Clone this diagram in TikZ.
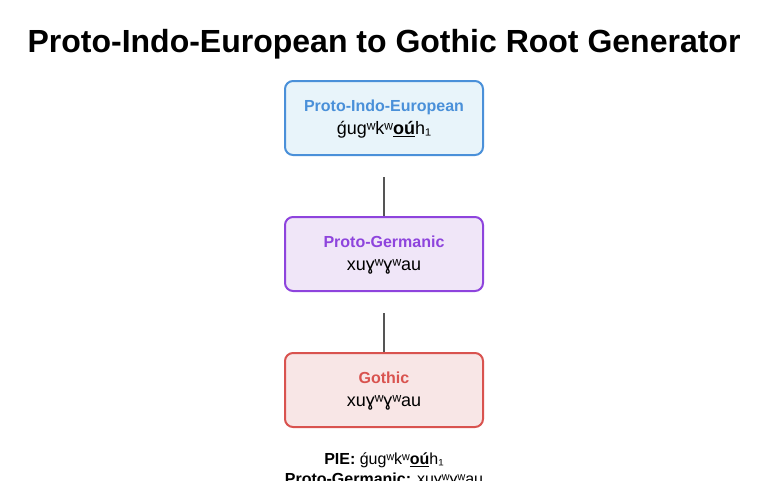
\documentclass[tikz,border=0pt]{standalone}
\usepackage{fontspec}
\setmainfont{Liberation Sans}
\definecolor{pieB}{HTML}{4A90D9}
\definecolor{pieF}{HTML}{E8F4FA}
\definecolor{pgB}{HTML}{8E44DD}
\definecolor{pgF}{HTML}{F0E6F8}
\definecolor{goB}{HTML}{D9534F}
\definecolor{goF}{HTML}{F8E6E6}
\definecolor{connC}{HTML}{555555}
\begin{document}
\begin{tikzpicture}[x=0.75pt,y=-0.75pt,
  stage/.style={draw=#1B, fill=#1F, line width=1.5pt, rounded corners=6pt,
    minimum width=148.5pt, minimum height=55.5pt, inner sep=0pt, align=center},
  lab/.style={font=\fontsize{12}{14}\selectfont\bfseries},
  form/.style={font=\fontsize{13.5}{16}\selectfont},
  foot/.style={font=\fontsize{12}{14}\selectfont},
  conn/.style={draw=connC, line width=1pt, shorten <=15.75pt}]
\useasboundingbox (0,0) rectangle (768,480);
\node[font=\fontsize{24}{28}\selectfont\bfseries, anchor=base] (title) at (384,52) {Proto-Indo-European to Gothic Root Generator};
\node[stage=pie] (b1) at (384,118) {};
\node[stage=pg] (b2) at (384,254) {};
\node[stage=go] (b3) at (384,390) {};
\node[lab, text=pieB, anchor=base] (l1) at (384,111) {Proto-Indo-European};
\node[form, anchor=base] (f1) at (384,134) {ǵugʷkʷ\underline{\textbf{oú}}h₁};
\node[lab, text=pgB, anchor=base] (l2) at (384,247) {Proto-Germanic};
\node[form, anchor=base] (f2) at (384,270) {xuɣʷɣʷau};
\node[lab, text=goB, anchor=base] (l3) at (384,383) {Gothic};
\node[form, anchor=base] (f3) at (384,406) {xuɣʷɣʷau};
\draw[conn] (b1.south) -- (b2.north);
\draw[conn] (b2.south) -- (b3.north);
\node[foot, anchor=base] (s1) at (384,464) {\textbf{PIE:} ǵugʷkʷ\underline{\textbf{oú}}h₁};
\node[foot, anchor=base] (s2) at (384,484) {\textbf{Proto-Germanic:} xuɣʷɣʷau};
\end{tikzpicture}
\end{document}
